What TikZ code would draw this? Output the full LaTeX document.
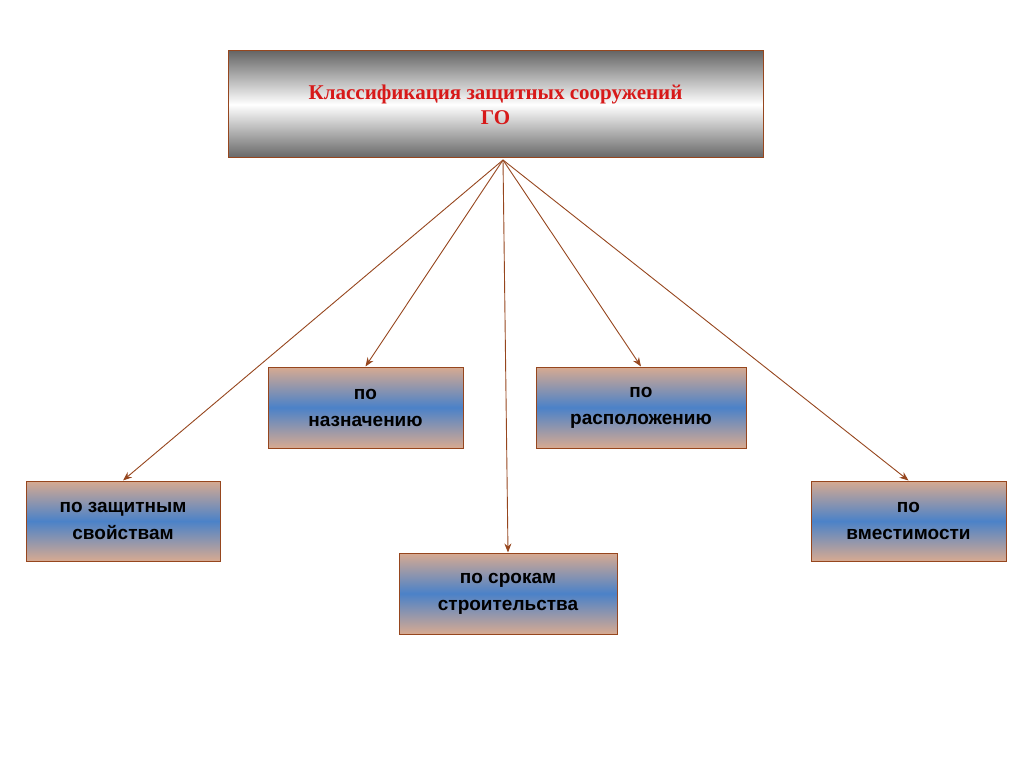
\documentclass[tikz,border=0pt]{standalone}
\usepackage{fontspec}
\setmainfont{Liberation Serif}
\setsansfont{Liberation Sans}
\usetikzlibrary{positioning,arrows.meta}
\definecolor{lineBrown}{RGB}{150, 70, 30}
\definecolor{boxTan}{RGB}{215, 170, 145}
\definecolor{boxBlue}{RGB}{75, 130, 200}
\definecolor{titleRed}{RGB}{215, 25, 25}
\tikzset{
    titlebox/.style={draw=lineBrown, line width=1pt, top color=black!60, bottom color=black!60, middle color=white,
        minimum width=535pt, minimum height=107pt, align=center, text=titleRed,
        font=\fontsize{21}{25}\selectfont\bfseries},
    kindbox/.style={draw=lineBrown, line width=1pt, top color=boxTan, bottom color=boxTan, middle color=boxBlue,
        minimum height=81pt, align=center, inner sep=2pt,
        font=\sffamily\fontsize{19}{27}\selectfont\bfseries},
    link/.style={draw=lineBrown, line width=0.9pt, -{Stealth[length=9pt, width=7pt]}}
}
\begin{document}
\begin{tikzpicture}[x=1pt, y=-1pt]
            \useasboundingbox (0,0) rectangle (1024,767);
            \node[titlebox] (title) at (495.5,104.5) {Классификация защитных сооружений\\ГО};
            \coordinate (src) at (503,160);

            \node[kindbox, minimum width=195pt] (purpose) at (365.5,407.5) {по\\назначению};
            \node[kindbox, minimum width=210pt] (place) at (641,407.5) {по\\расположению};
            \node[kindbox, minimum width=194pt, minimum height=80pt] (protect) at (123,521) {по защитным\\свойствам};
            \node[kindbox, minimum width=195pt, minimum height=80pt] (capacity) at (908.5,521) {по\\вместимости};
            \node[kindbox, minimum width=218pt] (terms) at (508,593.5) {по срокам\\строительства};

            \draw[link] (src) -- (protect.north);
            \draw[link] (src) -- (purpose.north);
            \draw[link] (src) -- (terms.north);
            \draw[link] (src) -- (place.north);
            \draw[link] (src) -- (capacity.north);
        \end{tikzpicture}
\end{document}
